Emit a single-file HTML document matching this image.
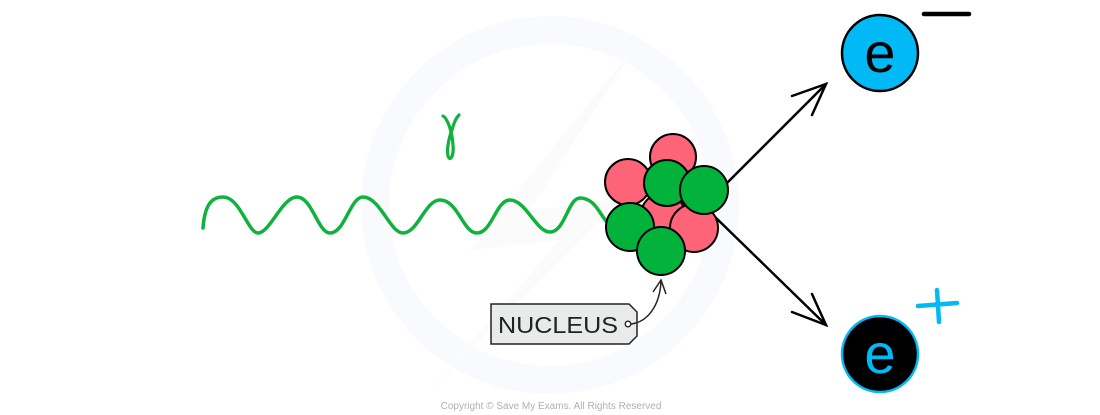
<!DOCTYPE html>
<html><head><style>
html,body{margin:0;padding:0;background:#fff;}
svg{display:block;}
</style></head><body>
<svg width="1100" height="415" viewBox="0 0 1100 415" xmlns="http://www.w3.org/2000/svg">
<!-- faint watermark -->
<circle cx="550" cy="205" r="175" fill="none" stroke="#f8fafd" stroke-width="28"/>
<path d="M640 40 L470 250 L560 240 L430 390 L620 200 L530 210 Z" fill="#fbfbfb"/>
<!-- wave -->
<path d="M203 228 C205 200,215 197,223 197 C240 197,248 233,258 233 C270 233,282 197,297 197 C312 197,318 233,330 233 C345 233,350 197,363 197 C380 197,390 233,403 233 C418 233,425 200,440 200 C458 200,463 233,477 233 C492 233,496 200,510 200 C526 200,536 232,550 232 C565 232,568 198,580 198 C595 198,600 215,607 222" fill="none" stroke="#0fb23c" stroke-width="3.5" stroke-linecap="round"/>
<!-- gamma -->
<path d="M443 116 C447 118,452 130,453 145 C454 155,451 160,449 158 C446 154,448 140,452 130 C454 122,457 117,459 115" fill="none" stroke="#0fb23c" stroke-width="3.2" stroke-linecap="round"/>
<!-- arrows -->
<g stroke="#000" stroke-width="2.5" fill="none" stroke-linecap="round">
<line x1="720" y1="190" x2="826" y2="84"/>
<polyline points="792,96 826,84 812,115"/>
<line x1="712" y1="214" x2="826" y2="325"/>
<polyline points="792,312 826,325 812,294"/>
</g>
<!-- nucleus -->
<g stroke="#000" stroke-width="2">
<circle cx="663" cy="215" r="22" fill="#fe6478"/>
<circle cx="673" cy="157" r="23" fill="#fe6478"/>
<circle cx="628" cy="182" r="23" fill="#fe6478"/>
<circle cx="694" cy="228" r="24" fill="#fe6478"/>
<circle cx="667" cy="183" r="23" fill="#03b23b"/>
<circle cx="704" cy="190" r="24" fill="#03b23b"/>
<circle cx="630" cy="227" r="24" fill="#03b23b"/>
<circle cx="661" cy="251" r="24" fill="#03b23b"/>
</g>
<!-- tag -->
<path d="M491 304 L629 304 L637 312 L637 336 L629 344 L491 344 Z" fill="#e9eaea" stroke="#222" stroke-width="1.5"/>
<text x="498" y="333" font-family="Liberation Sans, sans-serif" font-size="23" fill="#222" textLength="120" lengthAdjust="spacingAndGlyphs">NUCLEUS</text>
<circle cx="628" cy="324" r="2.8" fill="#fff" stroke="#222" stroke-width="1.3"/>
<path d="M631 324 C648 322,660 305,661 281" fill="none" stroke="#222" stroke-width="1.5"/>
<polyline points="653,292 661,280 666,294" fill="none" stroke="#222" stroke-width="1.5"/>
<!-- electron -->
<circle cx="880" cy="53" r="38" fill="#01b9f5" stroke="#000" stroke-width="2.5"/>
<text x="880" y="72" text-anchor="middle" font-family="Liberation Sans, sans-serif" font-size="56" fill="#000">e</text>
<line x1="924" y1="14" x2="969" y2="14" stroke="#000" stroke-width="4.5" stroke-linecap="round"/>
<!-- positron -->
<circle cx="880" cy="354" r="38" fill="#000" stroke="#01b9f5" stroke-width="2.5"/>
<text x="880" y="373" text-anchor="middle" font-family="Liberation Sans, sans-serif" font-size="56" fill="#01b9f5">e</text>
<g stroke="#01b9f5" stroke-width="4.5" stroke-linecap="round">
<line x1="918" y1="306" x2="957" y2="303"/>
<line x1="937" y1="290" x2="939" y2="322"/>
</g>
<text x="551" y="409" text-anchor="middle" font-family="Liberation Sans, sans-serif" font-size="10" fill="#b0b0b0">Copyright © Save My Exams. All Rights Reserved</text>
</svg>
</body></html>
